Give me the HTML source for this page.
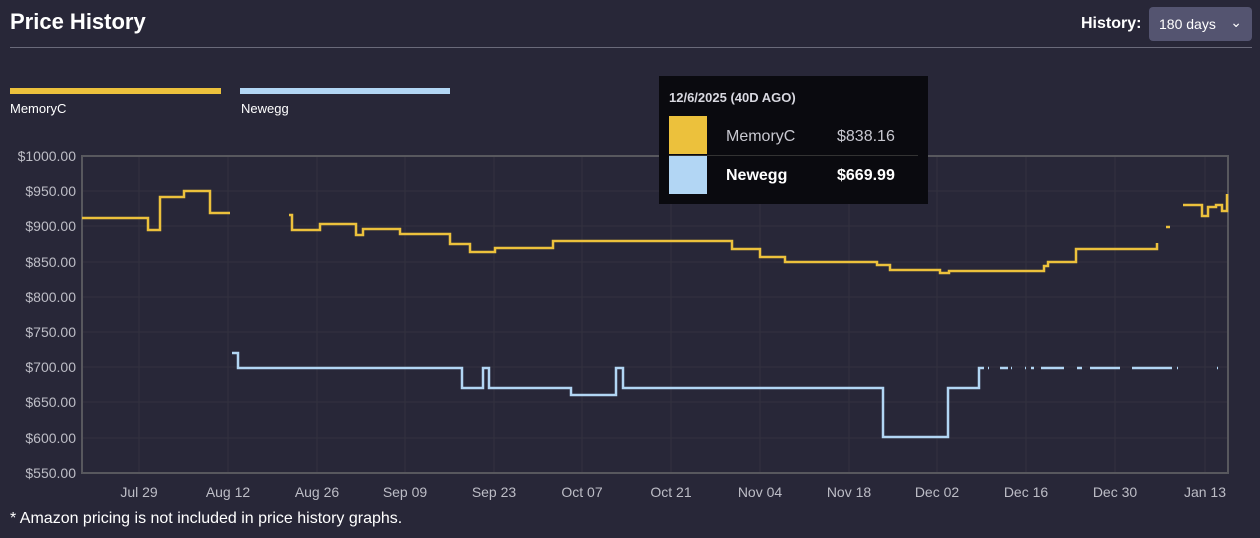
<!DOCTYPE html><html><head><style>
body{margin:0;width:1260px;height:538px;background:#282738;font-family:"Liberation Sans",sans-serif;color:#fff;position:relative;overflow:hidden}
.a{position:absolute}
</style></head><body>
<div class="a" style="left:10px;top:9px;font-size:22px;font-weight:bold">Price History</div>
<div class="a" style="left:1081px;top:15px;font-size:16px;font-weight:bold">History:</div>
<div class="a" style="left:1149px;top:7px;width:103px;height:34px;background:#545470;border-radius:4px;font-size:14px;line-height:34px;text-indent:10px">180 days<span class="a" style="right:10px;top:-2px;font-size:14px">&#8964;</span></div>
<div class="a" style="left:10px;top:47px;width:1242px;height:1px;background:#6a6a7a"></div>
<div class="a" style="left:10px;top:88px;width:211px;height:6px;background:#ecc13c"></div>
<div class="a" style="left:10px;top:101px;font-size:13px">MemoryC</div>
<div class="a" style="left:240px;top:88px;width:210px;height:6px;background:#b2d6f4"></div>
<div class="a" style="left:241px;top:101px;font-size:13px">Newegg</div>
<svg class="a" style="left:0;top:0" width="1260" height="538">
<g stroke="#33323f" stroke-width="1">
<line x1="82" x2="1228" y1="191" y2="191"/><line x1="82" x2="1228" y1="226" y2="226"/><line x1="82" x2="1228" y1="262" y2="262"/><line x1="82" x2="1228" y1="297" y2="297"/><line x1="82" x2="1228" y1="332" y2="332"/><line x1="82" x2="1228" y1="367" y2="367"/><line x1="82" x2="1228" y1="402" y2="402"/><line x1="82" x2="1228" y1="438" y2="438"/>
<line x1="139" x2="139" y1="156" y2="473"/><line x1="228" x2="228" y1="156" y2="473"/><line x1="317" x2="317" y1="156" y2="473"/><line x1="405" x2="405" y1="156" y2="473"/><line x1="494" x2="494" y1="156" y2="473"/><line x1="582" x2="582" y1="156" y2="473"/><line x1="671" x2="671" y1="156" y2="473"/><line x1="760" x2="760" y1="156" y2="473"/><line x1="849" x2="849" y1="156" y2="473"/><line x1="937" x2="937" y1="156" y2="473"/><line x1="1026" x2="1026" y1="156" y2="473"/><line x1="1115" x2="1115" y1="156" y2="473"/><line x1="1205" x2="1205" y1="156" y2="473"/>
</g>
<rect x="82" y="156" width="1146" height="317" fill="none" stroke="#58585e" stroke-width="2"/>
<g fill="none" stroke="#ecc13c" stroke-width="2.5">
<polyline points="82,218 148,218 148,230 160,230 160,197 184,197 184,191 210,191 210,213 230,213"/>
<polyline points="289,215 292,215 292,230 320,230 320,224 356,224 356,235 363,235 363,229 400,229 400,234 450,234 450,244 470,244 470,252 495,252 495,248 553,248 553,241 732,241 732,249 760,249 760,257 785,257 785,262 877,262 877,265 890,265 890,270 940,270 940,273 949,273 949,271 1044,271 1044,266 1048,266 1048,262 1076,262 1076,249 1157,249 1157,243"/>
<line x1="1166" x2="1170" y1="227" y2="227"/>
<polyline points="1183,205 1202,205 1202,216 1208,216 1208,207 1216,207 1216,205 1222,205 1222,211 1227,211 1227,194"/>
</g>
<g fill="none" stroke="#b2d6f4" stroke-width="2.5">
<polyline points="232,353 238,353 238,368 462,368 462,388 483,388 483,368 489,368 489,388 571,388 571,395 616,395 616,368 623,368 623,388 883,388 883,437 948,437 948,388 979,388 979,368 984,368"/>
<line x1="988" x2="1181" y1="368" y2="368" stroke-dasharray="1 11 8 3 1 13 1 5 3 7 23 13 5 8 30 12 40 5"/>
<line x1="1217" x2="1218" y1="368" y2="368"/>
</g>
<g fill="#bdbdc6" font-size="14" text-anchor="end" font-family="Liberation Sans,sans-serif">
<text x="76" y="161">$1000.00</text><text x="76" y="196">$950.00</text><text x="76" y="231">$900.00</text><text x="76" y="267">$850.00</text><text x="76" y="302">$800.00</text><text x="76" y="337">$750.00</text><text x="76" y="372">$700.00</text><text x="76" y="407">$650.00</text><text x="76" y="443">$600.00</text><text x="76" y="478">$550.00</text>
</g>
<g fill="#bdbdc6" font-size="14" text-anchor="middle" font-family="Liberation Sans,sans-serif">
<text x="139" y="497">Jul 29</text><text x="228" y="497">Aug 12</text><text x="317" y="497">Aug 26</text><text x="405" y="497">Sep 09</text><text x="494" y="497">Sep 23</text><text x="582" y="497">Oct 07</text><text x="671" y="497">Oct 21</text><text x="760" y="497">Nov 04</text><text x="849" y="497">Nov 18</text><text x="937" y="497">Dec 02</text><text x="1026" y="497">Dec 16</text><text x="1115" y="497">Dec 30</text><text x="1205" y="497">Jan 13</text>
</g>
</svg>
<div class="a" style="left:10px;top:510px;font-size:16px">* Amazon pricing is not included in price history graphs.</div>
<div class="a" style="left:659px;top:76px;width:269px;height:128px;background:#0a0a0f">
<div class="a" style="left:10px;top:14px;font-size:13px;font-weight:bold;color:#d8d8e0">12/6/2025 (40D AGO)</div>
<div class="a" style="left:10px;top:40px;width:38px;height:38px;background:#ecc13c"></div>
<div class="a" style="left:67px;top:52px;font-size:16px;color:#c8c8d0">MemoryC</div>
<div class="a" style="left:178px;top:52px;font-size:16px;color:#c8c8d0">$838.16</div>
<div class="a" style="left:10px;top:79px;width:249px;height:1px;background:#333"></div>
<div class="a" style="left:10px;top:80px;width:38px;height:38px;background:#b2d6f4"></div>
<div class="a" style="left:67px;top:91px;font-size:16px;font-weight:bold">Newegg</div>
<div class="a" style="left:178px;top:91px;font-size:16px;font-weight:bold">$669.99</div>
</div>
</body></html>
